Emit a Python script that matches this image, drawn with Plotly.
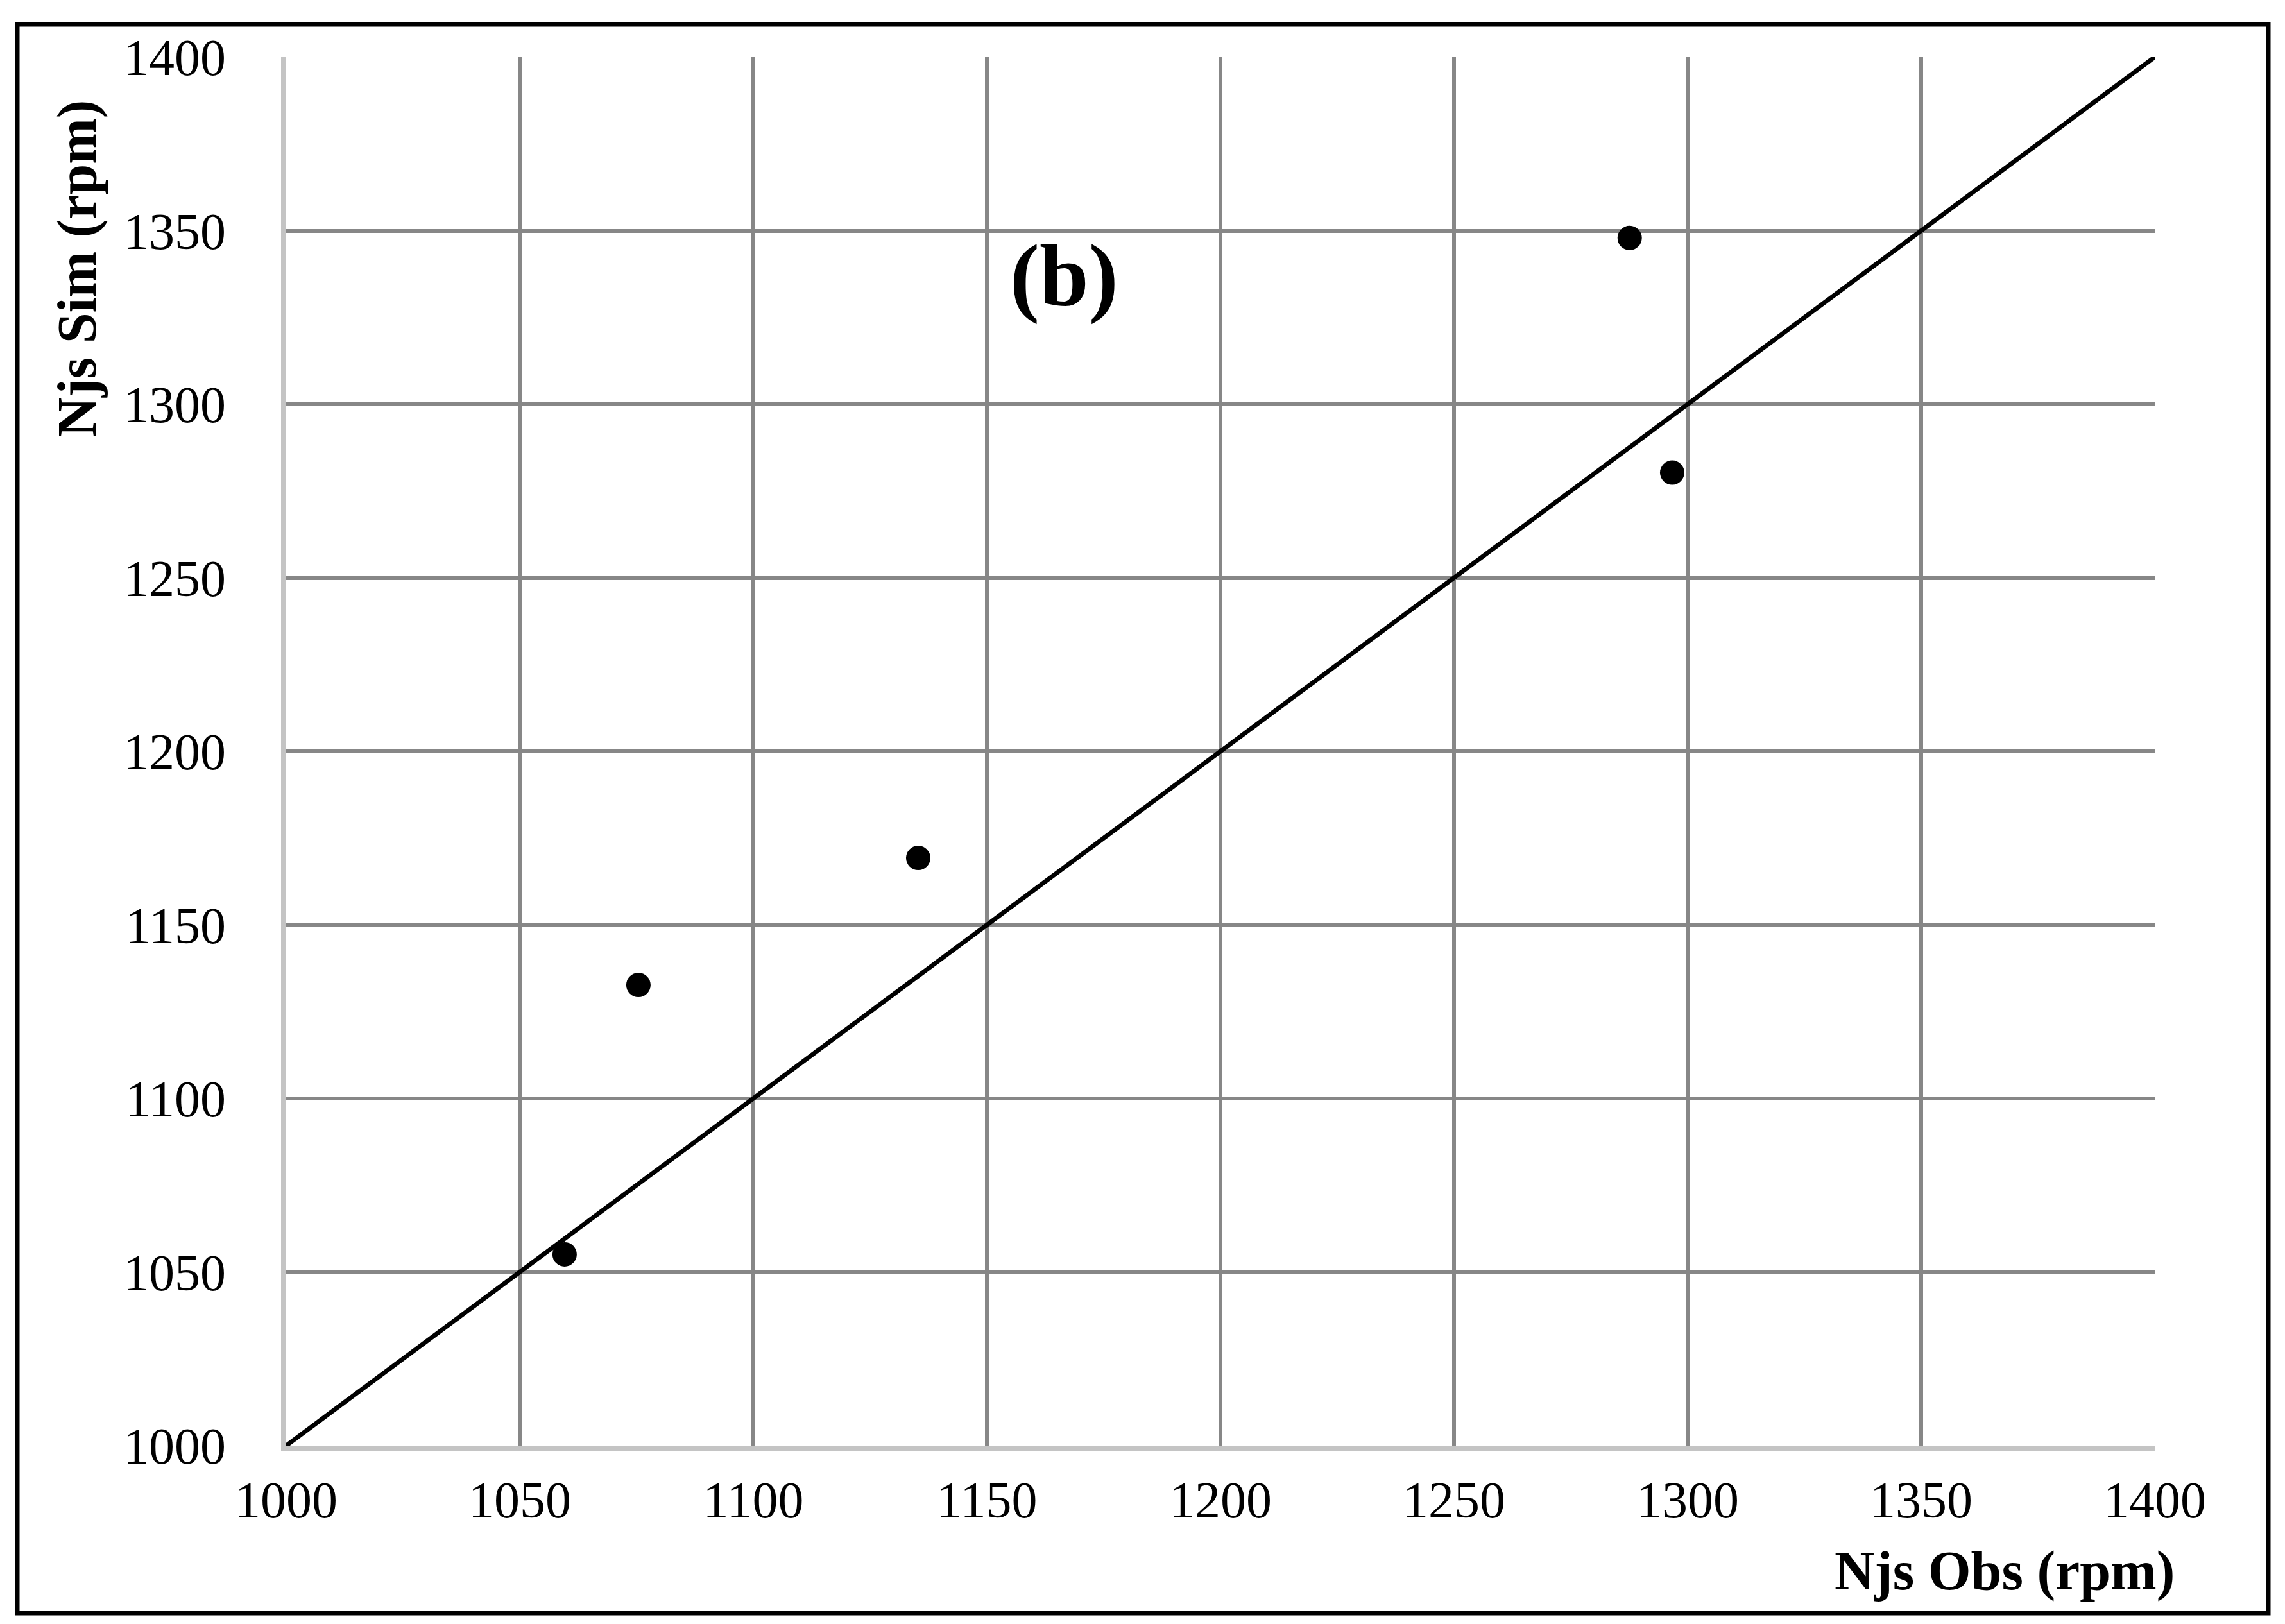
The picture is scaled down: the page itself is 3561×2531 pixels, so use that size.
import plotly.graph_objects as go

# Data
obs = [1059.6, 1075.4, 1135.3, 1287.6, 1296.7]
sim = [1055.1, 1132.7, 1169.3, 1347.9, 1280.3]
line_x = [1000, 1400]
line_y = [1000, 1400]
tick_vals = [1000, 1050, 1100, 1150, 1200, 1250, 1300, 1350, 1400]
x_title = "Njs Obs (rpm)"
y_title = "Njs Sim (rpm)"
panel_label = "(b)"
panel_pos = (1166.6, 1337.0)

W, H = 3561, 2531
L, R, T, B = 438, 3561 - 3350, 81, 2531 - 2245
pw, ph = W - L - R, H - T - B

def px(x):
    return (x - L) / pw

def py(y):
    return (H - B - y) / ph

FONT = "Liberation Serif, Times New Roman, serif"

fig = go.Figure()
fig.add_trace(go.Scatter(x=line_x, y=line_y, mode="lines",
                         line=dict(color="black", width=7), showlegend=False))
fig.add_trace(go.Scatter(x=obs, y=sim, mode="markers",
                         marker=dict(color="black", size=38), showlegend=False))

axis_common = dict(
    range=[1000, 1400], tickvals=tick_vals, showgrid=True,
    gridcolor="#878787", gridwidth=6, zeroline=False,
    showline=True, linecolor="#c4c4c4", linewidth=8,
    ticks="", tickfont=dict(family=FONT, size=80, color="black"),
)
fig.update_xaxes(**axis_common, ticklabelstandoff=8)
fig.update_yaxes(**axis_common, ticklabelstandoff=70)

fig.add_annotation(text="<b>" + panel_label + "</b>", x=panel_pos[0], y=panel_pos[1], xref="x", yref="y",
                   showarrow=False, font=dict(family=FONT, size=138, color="black"))
fig.add_annotation(text="<b>" + x_title + "</b>", x=px(3116), y=py(2440), xref="paper", yref="paper",
                   showarrow=False, xanchor="center", yanchor="middle",
                   font=dict(family=FONT, size=86, color="black"))
fig.add_annotation(text="<b>" + y_title + "</b>", x=px(112), y=py(410), xref="paper", yref="paper",
                   showarrow=False, textangle=-90, xanchor="center", yanchor="middle",
                   font=dict(family=FONT, size=86, color="black"))

# outer frame
fig.add_shape(type="rect", xref="paper", yref="paper",
              x0=px(19), x1=px(3527), y0=py(2506), y1=py(30),
              line=dict(color="black", width=7), layer="above")

fig.update_layout(width=W, height=H, margin=dict(l=L, r=R, t=T, b=B),
                  plot_bgcolor="white", paper_bgcolor="white")
fig.write_html("out.html")
